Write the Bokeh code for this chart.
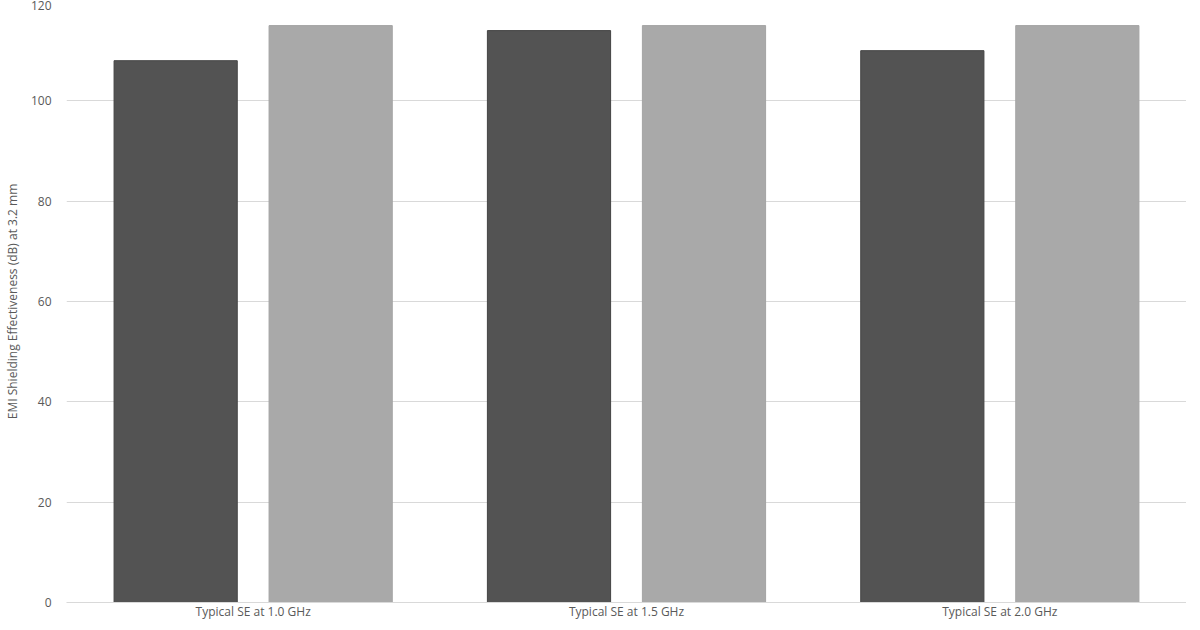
from bokeh.plotting import figure
from bokeh.models import FactorRange, Range1d, ColumnDataSource, FixedTicker
from bokeh.transform import dodge
from bokeh.embed import file_html
from bokeh.resources import INLINE

categories = ["Typical SE at 1.0 GHz", "Typical SE at 1.5 GHz", "Typical SE at 2.0 GHz"]
series_a = [108, 114, 110]
series_b = [115, 115, 115]
y_ticks = [0, 20, 40, 60, 80, 100, 120]

source = ColumnDataSource(data=dict(cat=categories, a=series_a, b=series_b))

p = figure(
    x_range=FactorRange(*categories, range_padding=0),
    y_range=Range1d(0, 120),
    width=1186, height=622,
    output_backend="svg", toolbar_location=None,
    min_border_left=60, min_border_right=0, min_border_top=0, min_border_bottom=0,
)

p.vbar(x=dodge("cat", -0.2076, range=p.x_range), top="a", width=0.33, source=source,
       fill_color="#535353", line_color="#444444", line_width=1)
p.vbar(x=dodge("cat", 0.2076, range=p.x_range), top="b", width=0.33, source=source,
       fill_color="#a9a9a9", line_color="#a4a4a4", line_width=1)

p.outline_line_color = None
p.xgrid.grid_line_color = None
p.ygrid.grid_line_color = "#d9d9d9"
p.ygrid.grid_line_width = 1
p.yaxis.ticker = FixedTicker(ticks=y_ticks)

p.yaxis.axis_line_color = None
p.yaxis.major_tick_line_color = None
p.yaxis.minor_tick_line_color = None
p.yaxis.major_label_standoff = 9
p.yaxis.major_label_text_font = "Open Sans"
p.yaxis.major_label_text_font_size = "12px"
p.yaxis.major_label_text_color = "#595959"
p.yaxis.axis_label = "EMI Shielding Effectiveness (dB) at 3.2 mm"
p.yaxis.axis_label_text_font = "Open Sans"
p.yaxis.axis_label_text_font_style = "normal"
p.yaxis.axis_label_text_font_size = "12px"
p.yaxis.axis_label_text_color = "#595959"
p.yaxis.axis_label_standoff = 7

p.xaxis.axis_line_color = "#d9d9d9"
p.xaxis.major_tick_line_color = None
p.xaxis.minor_tick_line_color = None
p.xaxis.major_tick_out = 0
p.xaxis.minor_tick_out = 0
p.xaxis.major_label_standoff = 0
p.xaxis.major_label_text_font = "Open Sans"
p.xaxis.major_label_text_font_size = "12px"
p.xaxis.major_label_text_color = "#595959"

open("out.html", "w").write(file_html(p, INLINE))
